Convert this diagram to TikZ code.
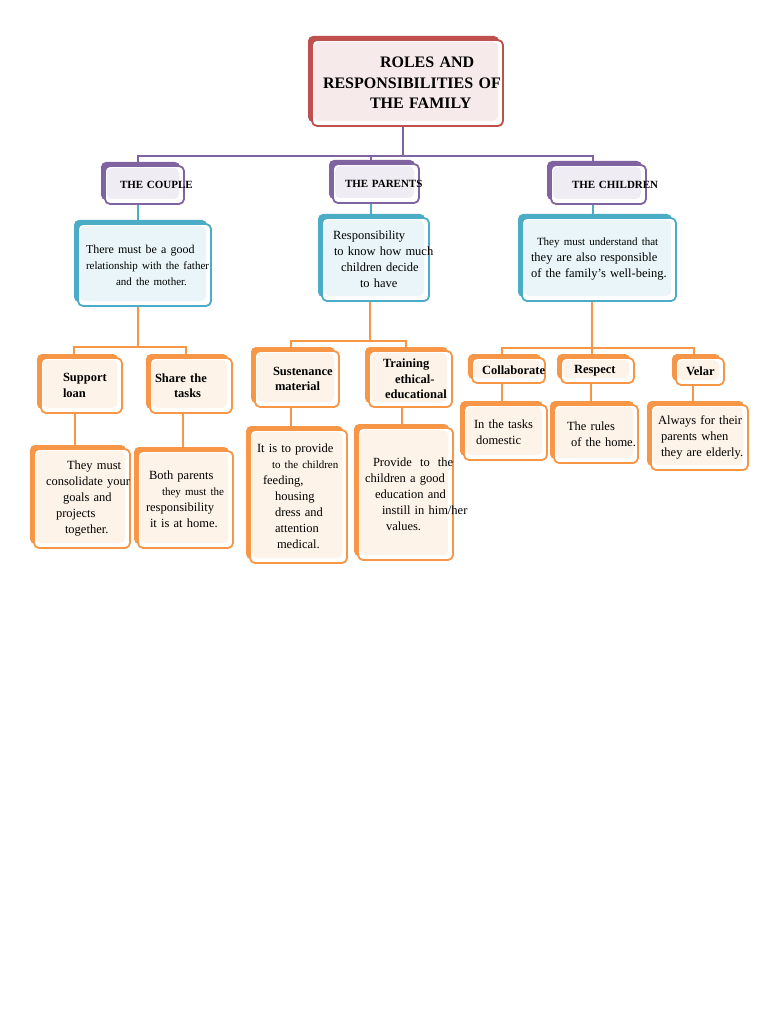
\documentclass[tikz,border=0pt]{standalone}
\usepackage{fontspec}
\setmainfont{Liberation Serif}
\usetikzlibrary{shadows,backgrounds}

\definecolor{famred}{HTML}{C0504D}
\definecolor{fampurple}{HTML}{8064A2}
\definecolor{famblue}{HTML}{4BACC6}
\definecolor{famorange}{HTML}{F79646}

\tikzset{
  card/.style={draw=#1, line width=1.8pt, fill=white, rounded corners=5pt,
    inner sep=0pt, align=left,
    general shadow={fill=#1, shadow xshift=-4pt, shadow yshift=4pt},
    path picture={\fill[#1!12] ([shift={(2pt,-2pt)}]path picture bounding box.north west)
      rectangle ([shift={(-5pt,5pt)}]path picture bounding box.south east);}},
  link/.style={draw=#1, line width=1.6pt},
  titletxt/.style={font=\bfseries\fontsize{16}{20.5}\selectfont},
  headtxt/.style={font=\bfseries\fontsize{11}{13}\selectfont},
  subtxt/.style={font=\bfseries\fontsize{12.5}{15.5}\selectfont},
  bodytxt/.style={font=\fontsize{12.5}{16}\selectfont},
}
\newcommand{\famsmall}{\fontsize{11}{16}\selectfont}
% une ligne de texte, decalee de #1 pt
\newcommand{\tline}[2]{\hspace*{#1pt}\mbox{#2}}

\begin{document}
\begin{tikzpicture}[x=1pt, y=-1pt]
  \useasboundingbox (0,0) rectangle (768,1024);

  % Titre
  \node[card=famred, titletxt, text width=191pt, minimum height=86pt] (title) at (407.5,83)
    {\tline{68}{ROLES AND}\\\tline{11}{RESPONSIBILITIES OF}\\\tline{58}{THE FAMILY}};

  % Niveau 1
  \node[card=fampurple, headtxt, text width=79pt, minimum height=38pt] (couple) at (144.5,185)
    {\tline{15}{THE COUPLE}};
  \node[card=fampurple, headtxt, text width=86pt, minimum height=39pt] (parents) at (376,183.5)
    {\tline{12}{THE PARENTS}};
  \node[card=fampurple, headtxt, text width=95pt, minimum height=39pt] (children) at (598.5,184.5)
    {\tline{21}{THE CHILDREN}};

  % Niveau 2 (bleu)
  \node[card=famblue, bodytxt, text width=133pt, minimum height=82pt] (cinfo) at (144.5,265)
    {\tline{8}{\fontsize{12}{16}\selectfont There must be a good}\\
     \tline{8}{\famsmall relationship with the father}\\
     \tline{38}{\famsmall and the mother.}};
  \node[card=famblue, bodytxt, text width=107pt, minimum height=83pt] (pinfo) at (375.5,259.5)
    {\tline{11}{Responsibility}\\\tline{12}{to know how much}\\
     \tline{19}{children decide}\\\tline{38}{to have}};
  \node[card=famblue, bodytxt, text width=154pt, minimum height=83pt] (kinfo) at (599,259.5)
    {\tline{15}{\famsmall They must understand that}\\
     \tline{9}{they are also responsible}\\\tline{9}{of the family's well-being.}};

  % Niveau 3 : le couple
  \node[card=famorange, subtxt, text width=81pt, minimum height=55pt] (support) at (81.5,385.5)
    {\tline{22}{Support}\\\tline{22}{loan}};
  \node[card=famorange, subtxt, text width=82pt, minimum height=55pt] (share) at (191,385.5)
    {\tline{5}{Share the}\\\tline{24}{tasks}};
  \node[card=famorange, bodytxt, text width=96pt, minimum height=99pt] (must) at (82,498.5)
    {\tline{33}{They must}\\\tline{12}{consolidate your}\\\tline{29}{goals and}\\
     \tline{22}{projects}\\\tline{31}{together.}};
  \node[card=famorange, bodytxt, text width=95pt, minimum height=97pt] (both) at (185.5,499.5)
    {\tline{11}{Both parents}\\\tline{24}{\famsmall they must the}\\
     \tline{8}{responsibility}\\\tline{12}{it is at home.}};

  % Niveau 3 : les parents
  \node[card=famorange, subtxt, text width=84pt, minimum height=56pt] (susten) at (297,379)
    {\tline{18}{Sustenance}\\\tline{20}{material}};
  \node[card=famorange, subtxt, text width=83pt, minimum height=56pt] (training) at (410.5,379)
    {\tline{14}{Training}\\\tline{26}{ethical-}\\\tline{16}{educational}};
  \node[card=famorange, bodytxt, text width=97pt, minimum height=133pt] (feed) at (298.5,496.5)
    {\tline{7}{It is to provide}\\\tline{22}{\famsmall to the children}\\
     \tline{13}{feeding,}\\\tline{25}{housing}\\\tline{25}{dress and}\\
     \tline{25}{attention}\\\tline{27}{medical.}};
  \node[card=famorange, bodytxt, text width=95pt, minimum height=132pt] (educ) at (405.5,494)
    {\tline{15}{Provide\hspace{4pt} to\hspace{4pt} the}\\\tline{7}{children a good}\\
     \tline{17}{education and}\\\tline{24}{instill in him/her}\\\tline{28}{values.}};

  % Niveau 3 : les enfants
  \node[card=famorange, subtxt, text width=73pt, minimum height=25pt] (collab) at (508.5,370.5)
    {\tline{10}{Collaborate}};
  \node[card=famorange, subtxt, text width=73pt, minimum height=25pt] (respect) at (597.5,370.5)
    {\tline{13}{Respect}};
  \node[card=famorange, subtxt, text width=48pt, minimum height=27pt] (velar) at (700,371.5)
    {\tline{10}{Velar}};
  \node[card=famorange, bodytxt, text width=83pt, minimum height=55pt] (tasks) at (505.5,432.5)
    {\tline{10}{In the tasks}\\\tline{12}{domestic}};
  \node[card=famorange, bodytxt, text width=84pt, minimum height=58pt] (rules) at (596,434)
    {\tline{13}{The rules}\\\tline{17}{of the home.}};
  \node[card=famorange, bodytxt, text width=97pt, minimum height=65pt] (always) at (699.5,437.5)
    {\tline{7}{Always for their}\\\tline{10}{parents when}\\\tline{10}{they are elderly.}};

  % Liaisons (en arriere-plan)
  \begin{pgfonlayer}{background}
    \fill[white] (0,0) rectangle (768,1024);

    \draw[link=fampurple] ([xshift=-4.5pt]title.south) -- ++(0,29) coordinate (tbus);
    \draw[link=fampurple] ([xshift=-6.5pt]couple.north) |- (tbus) -| ([xshift=-5.5pt]children.north);
    \draw[link=fampurple] ([xshift=-5pt]parents.north) -- ([xshift=-5pt]parents.north |- tbus);

    \draw[link=famblue] ([xshift=-6.5pt]couple.south) -- ([xshift=-6.5pt]couple.south |- cinfo.north);
    \draw[link=famblue] ([xshift=-5pt]parents.south) -- ([xshift=-5pt]parents.south |- pinfo.north);
    \draw[link=famblue] ([xshift=-5.5pt]children.south) -- ([xshift=-5.5pt]children.south |- kinfo.north);

    \draw[link=famorange] ([xshift=-6.5pt]cinfo.south) -- ++(0,40) coordinate (cbus);
    \draw[link=famorange] ([xshift=-7.5pt]support.north) |- (cbus) -| ([xshift=-5pt]share.north);
    \draw[link=famorange] ([xshift=-5.5pt]pinfo.south) -- ++(0,39) coordinate (pbus);
    \draw[link=famorange] ([xshift=-6pt]susten.north) |- (pbus) -| ([xshift=-4.5pt]training.north);
    \draw[link=famorange] ([xshift=-7pt]kinfo.south) -- ++(0,46) coordinate (kbus);
    \draw[link=famorange] ([xshift=-6.5pt]collab.north) |- (kbus) -| ([xshift=-6pt]velar.north);
    \draw[link=famorange] (kbus) -- ([xshift=-5.5pt]respect.north);

    \draw[link=famorange] ([xshift=-6.5pt]support.south) -- ([xshift=-6.5pt]support.south |- must.north);
    \draw[link=famorange] ([xshift=-8pt]share.south) -- ([xshift=-8pt]share.south |- both.north);
    \draw[link=famorange] ([xshift=-6pt]susten.south) -- ([xshift=-6pt]susten.south |- feed.north);
    \draw[link=famorange] ([xshift=-8.5pt]training.south) -- ([xshift=-8.5pt]training.south |- educ.north);
    \draw[link=famorange] ([xshift=-6.5pt]collab.south) -- ([xshift=-6.5pt]collab.south |- tasks.north);
    \draw[link=famorange] ([xshift=-6.5pt]respect.south) -- ([xshift=-6.5pt]respect.south |- rules.north);
    \draw[link=famorange] ([xshift=-7pt]velar.south) -- ([xshift=-7pt]velar.south |- always.north);
  \end{pgfonlayer}
\end{tikzpicture}
\end{document}
